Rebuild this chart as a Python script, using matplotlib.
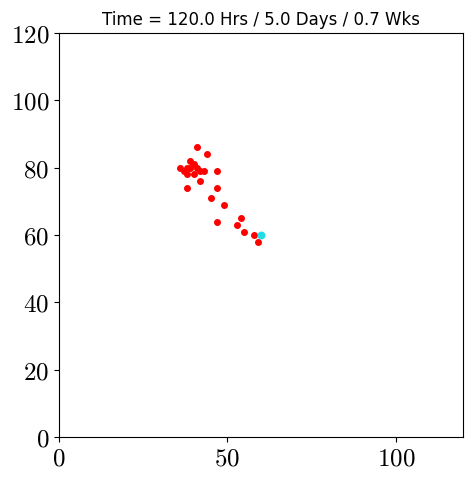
import matplotlib
matplotlib.use('Agg')
import matplotlib.pyplot as plt

plt.rcParams['mathtext.fontset'] = 'cm'

# positions of agents (red) and the target (cyan)
red_x = [41, 44, 39, 36, 37, 38, 39, 40, 40, 41, 42, 43, 38, 47, 42, 38, 47, 45, 49, 47, 54, 53, 55, 58, 59]
red_y = [86, 84, 82, 80, 79, 78, 80, 81, 78, 80, 79, 79, 80, 79, 76, 74, 74, 71, 69, 64, 65, 63, 61, 60, 58]
cyan_x = [60]
cyan_y = [60]

hours = 120.0
title = 'Time = %.1f Hrs / %.1f Days / %.1f Wks' % (hours, hours / 24, hours / 168)

fig = plt.figure(figsize=(4.74, 4.83), dpi=100)
ax = fig.add_axes([0.1245, 0.0952, 0.8525, 0.8365])

ax.scatter(red_x, red_y, s=16, color='red', zorder=2)
ax.scatter(cyan_x, cyan_y, s=22, color='#22dde8', zorder=3)

ax.set_xlim(0, 120)
ax.set_ylim(0, 120)
ax.set_xticks([0, 50, 100])
ax.set_xticklabels(['$0$', '$50$', '$100$'], fontsize=18)
ax.set_yticks([0, 20, 40, 60, 80, 100, 120])
ax.set_yticklabels(['$%d$' % v for v in [0, 20, 40, 60, 80, 100, 120]], fontsize=18)
ax.set_title(title, fontsize=12)

fig.savefig('out.png', dpi=100)
